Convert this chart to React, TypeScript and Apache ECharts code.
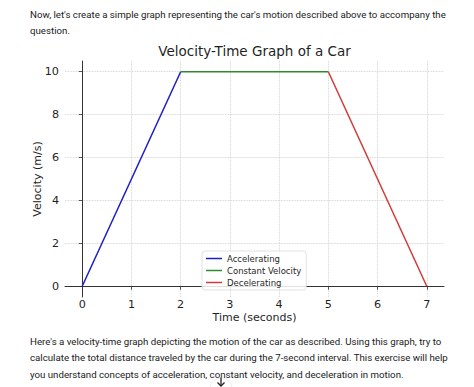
import React, { useEffect, useRef } from "react";
import * as echarts from "echarts";

const accelerating: [number, number][] = [[0, 0], [2, 10]];
const constantVelocity: [number, number][] = [[2, 10], [5, 10]];
const decelerating: [number, number][] = [[5, 10], [7, 0]];
const xTicks = [0, 1, 2, 3, 4, 5, 6, 7];
const yTicks = [0, 2, 4, 6, 8, 10];
const seriesNames = ["Accelerating", "Constant Velocity", "Decelerating"];
const introLines = [
  "Now, let's create a simple graph representing the car's motion described above to accompany the",
  "question.",
];
const outroLines = [
  "Here's a velocity-time graph depicting the motion of the car as described. Using this graph, try to",
  "calculate the total distance traveled by the car during the 7-second interval. This exercise will help",
  "you understand concepts of acceleration, constant velocity, and deceleration in motion.",
];

const MPL = "'DejaVu Sans', sans-serif";
const UI = "Roboto, 'Noto Sans', sans-serif";

export default function App() {
  const ref = useRef<HTMLDivElement>(null);
  useEffect(() => {
    if (!ref.current) return;
    const chart = echarts.init(ref.current, undefined, { renderer: "svg" });
    const axisCommon = {
      type: "value" as const,
      nameMoveOverlap: false,
      axisLine: { show: true, lineStyle: { color: "#333", width: 1 } },
      axisTick: { show: true, inside: false, length: 3.5, lineStyle: { color: "#333", width: 0.8 } },
      splitLine: { show: true, lineStyle: { color: "#c8c8c8", type: "dotted" as const, width: 0.8 } },
      axisLabel: { color: "#1f1f1f", fontFamily: MPL, fontSize: 11.2 },
      nameTextStyle: { color: "#1f1f1f", fontFamily: MPL, fontSize: 11 },
    };
    const textLine = (t: string, x: number, y: number) => ({
      type: "text",
      x,
      y,
      style: { text: t, fill: "#1a1a1a", font: `9.7px ${UI}`, textVerticalAlign: "middle" },
    });
    chart.setOption({
      animation: false,
      backgroundColor: "#ffffff",
      grid: { left: 65, right: 30, top: 61, bottom: 90, containLabel: false },
      xAxis: {
        ...axisCommon,
        min: -0.35,
        max: 7.35,
        name: "Time (seconds)",
        nameLocation: "middle",
        nameGap: 15,
        axisTick: { ...axisCommon.axisTick, customValues: xTicks },
        axisLabel: { ...axisCommon.axisLabel, customValues: xTicks, margin: 2 },
      },
      yAxis: {
        ...axisCommon,
        min: -0.5,
        max: 10.5,
        name: "Velocity (m/s)",
        nameLocation: "middle",
        nameGap: 22,
        axisTick: { ...axisCommon.axisTick, customValues: yTicks },
        axisLabel: { ...axisCommon.axisLabel, customValues: yTicks, margin: 6 },
      },
      legend: {
        data: seriesNames,
        orient: "vertical",
        left: 202,
        top: 251,
        icon: "rect",
        itemWidth: 16,
        itemHeight: 1.5,
        itemGap: 3,
        padding: [3, 5, 3, 4],
        backgroundColor: "rgba(255,255,255,0.85)",
        borderColor: "#d9d9d9",
        borderWidth: 0.8,
        borderRadius: 3,
        textStyle: { fontFamily: MPL, fontSize: 8.5, color: "#1f1f1f" },
      },
      series: [
        { name: seriesNames[0], type: "line", data: accelerating, symbol: "none", lineStyle: { color: "#1c1cc8", width: 1.5 }, itemStyle: { color: "#1c1cc8" } },
        { name: seriesNames[1], type: "line", data: constantVelocity, symbol: "none", lineStyle: { color: "#2e8a2e", width: 1.5 }, itemStyle: { color: "#2e8a2e" } },
        { name: seriesNames[2], type: "line", data: decelerating, symbol: "none", lineStyle: { color: "#d23a3a", width: 1.5 }, itemStyle: { color: "#d23a3a" } },
      ],
      graphic: [
        {
          type: "text",
          x: 254.5,
          y: 51,
          style: {
            text: "Velocity-Time Graph of a Car",
            fill: "#1f1f1f",
            font: `13.5px ${MPL}`,
            textAlign: "center",
            textVerticalAlign: "middle",
          },
        },
        textLine(introLines[0], 30, 14),
        textLine(introLines[1], 30, 30),
        textLine(outroLines[0], 30, 341),
        textLine(outroLines[1], 30, 357.5),
        textLine(outroLines[2], 30, 374),
        {
          type: "circle",
          shape: { cx: 221, cy: 389, r: 11 },
          style: { fill: "#ffffff", stroke: "#e6e6e6", lineWidth: 0.8 },
        },
        {
          type: "line",
          shape: { x1: 221, y1: 377.5, x2: 221, y2: 386 },
          style: { stroke: "#222", lineWidth: 1.3 },
        },
        {
          type: "polyline",
          shape: { points: [[217.5, 382.5], [221, 386], [224.5, 382.5]] },
          style: { stroke: "#222", lineWidth: 1.3, fill: "none" },
        },
      ],
    });
    return () => chart.dispose();
  }, []);
  return (
    <div
      ref={ref}
      style={{ position: "fixed", left: 0, top: 0, width: 474, height: 387, background: "#fff" }}
    />
  );
}
